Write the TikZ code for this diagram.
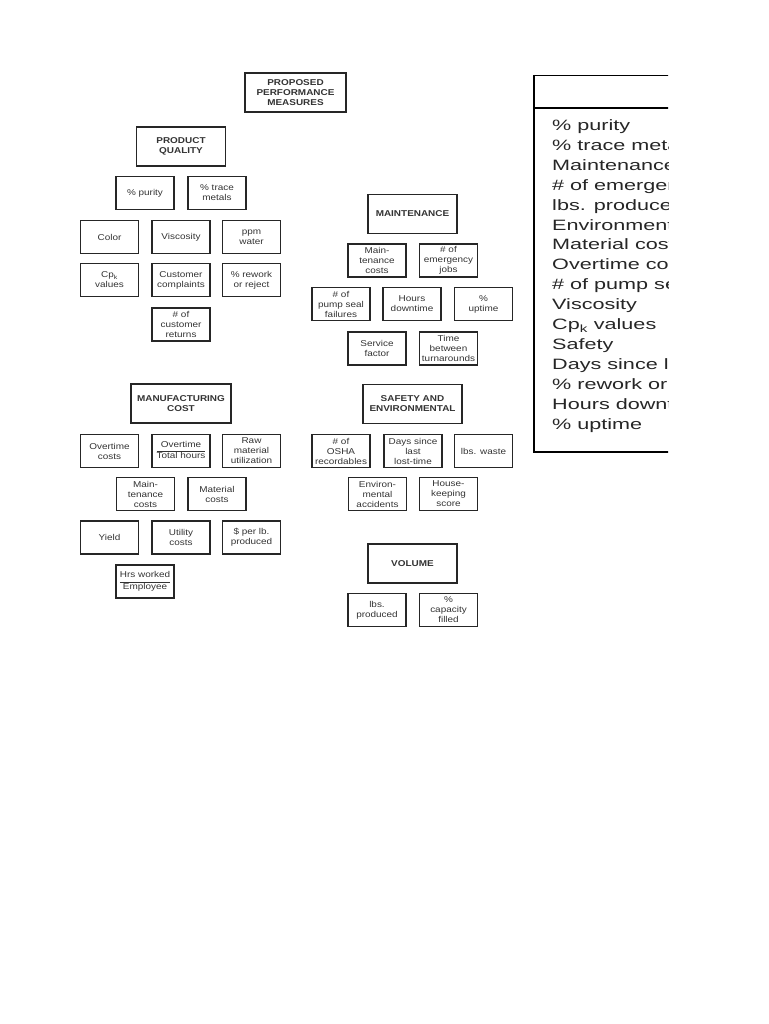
\documentclass[tikz,border=0pt]{standalone}
\usepackage{fontspec}
\setmainfont{Liberation Sans}[FakeStretch=1.17]
\newfontfamily\tablefont{Liberation Sans}[FakeStretch=1.44]

\tikzset{
  measure/.style={draw=black!85, line width=1.3pt, align=center, inner sep=0pt,
    text=black!80, font=\fontsize{8.5}{10}\selectfont,
    minimum width=58pt, minimum height=33pt},
  heading/.style={measure, font=\bfseries\fontsize{8.5}{10}\selectfont,
    minimum width=89pt, minimum height=39pt},
  rowtext/.style={anchor=base west, inner sep=0pt, text=black!85,
    font=\tablefont\fontsize{15}{17}\selectfont}
}

\begin{document}
\begin{tikzpicture}[x=1pt,y=-1pt]
\useasboundingbox (0,0) rectangle (768,1024);

% product quality
\node[heading, minimum width=101pt] (top) at (295.5,92.5) {PROPOSED\\PERFORMANCE\\MEASURES};
\node[heading] (quality) at (181,146.5) {PRODUCT\\QUALITY};
\node[measure] (purity) at (145,193) {\% purity};
\node[measure] (trace) at (217,193) {\% trace\\metals};
\node[measure] (color) at (109.5,237) {Color};
\node[measure] (visc) at (181,237) {Viscosity};
\node[measure] (ppm) at (251.5,237) {ppm\\water};
\node[measure] (cpk) at (109.5,280) {Cp\textsubscript{k}\\values};
\node[measure] (compl) at (181,280) {Customer\\complaints};
\node[measure] (rework) at (251.5,280) {\% rework\\or reject};
\node[measure] (returns) at (181,324.5) {\# of\\customer\\returns};

% maintenance
\node[heading] (maint) at (412.5,214) {MAINTENANCE};
\node[measure] (mcosts) at (377,260.5) {Main-\\tenance\\costs};
\node[measure] (emerg) at (448.5,260.5) {\# of\\emergency\\jobs};
\node[measure] (pump) at (341,304) {\# of\\pump seal\\failures};
\node[measure] (down) at (412,304) {Hours\\downtime};
\node[measure] (uptime) at (483.5,304) {\%\\uptime};
\node[measure] (service) at (377,348.5) {Service\\factor};
\node[measure] (turn) at (448.5,348.5) {Time\\between\\turnarounds};

% manufacturing cost
\node[heading, minimum width=100pt] (manuf) at (181,403.5) {MANUFACTURING\\COST};
\node[measure] (otcosts) at (109.5,451) {Overtime\\costs};
\node[measure] (otratio) at (181,451) {\begin{tabular}{@{}c@{}}Overtime\\[1pt]\hline Total hours\end{tabular}};
\node[measure] (raw) at (251.5,451) {Raw\\material\\utilization};
\node[measure] (mcosts2) at (145.5,494) {Main-\\tenance\\costs};
\node[measure] (matcosts) at (217,494) {Material\\costs};
\node[measure] (yield) at (109.5,537.5) {Yield};
\node[measure] (utility) at (181,537.5) {Utility\\costs};
\node[measure] (perlb) at (251.5,537.5) {\$ per lb.\\produced};
\node[measure] (hrs) at (145,581.5) {\begin{tabular}{@{}c@{}}Hrs worked\\[1pt]\hline Employee\end{tabular}};

% safety and environmental
\node[heading, minimum width=99pt] (safety) at (412.5,404) {SAFETY AND\\ENVIRONMENTAL};
\node[measure] (osha) at (341,451) {\# of\\OSHA\\recordables};
\node[measure] (days) at (413,451) {Days since\\last\\lost-time};
\node[measure] (waste) at (483.5,451) {lbs. waste};
\node[measure] (envacc) at (377.5,494) {Environ-\\mental\\accidents};
\node[measure] (house) at (448.5,494) {House-\\keeping\\score};

% volume
\node[heading] (volume) at (412.5,563.5) {VOLUME};
\node[measure] (lbs) at (377,610) {lbs.\\produced};
\node[measure] (capacity) at (448.5,610) {\%\\capacity\\filled};

% table, cut at the right
\begin{scope}
\clip (520,60) rectangle (668,470);
\draw[line width=1.5pt] (534,75.5) -- (800,75.5);
\draw[line width=1.5pt] (534,108) -- (800,108);
\draw[line width=2.2pt] (534,452) -- (800,452);
\draw[line width=2.5pt] (534,74.8) -- (534,453.1);
\foreach \txt [count=\i] in {\% purity, \% trace metals, Maintenance costs,
  \# of emergency jobs, lbs. produced, Environmental accidents, Material costs,
  Overtime costs, \# of pump seal failures, Viscosity, Cp\textsubscript{k} values,
  Safety, Days since last lost-time, \% rework or reject, Hours downtime, \% uptime}
  \node[rowtext] (row\i) at (552,{130.5+(\i-1)*19.9}) {\txt};
\end{scope}
\end{tikzpicture}
\end{document}
